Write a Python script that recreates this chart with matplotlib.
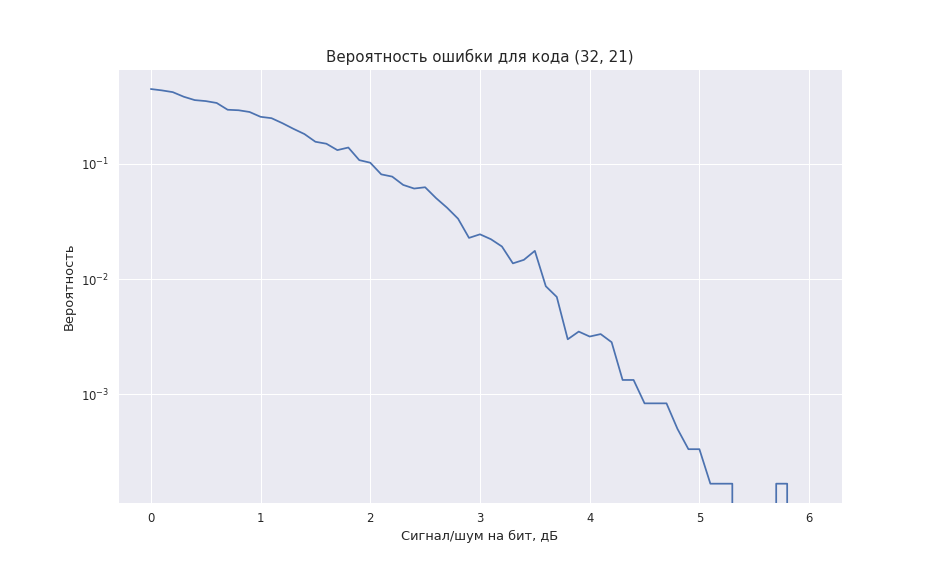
import matplotlib
matplotlib.use('Agg')
import matplotlib.pyplot as plt
import seaborn as sns

# Eb/N0 in dB
snr_db = [0.0, 0.1, 0.2, 0.3, 0.4, 0.5, 0.6, 0.7, 0.8, 0.9,
          1.0, 1.1, 1.2, 1.3, 1.4, 1.5, 1.6, 1.7, 1.8, 1.9,
          2.0, 2.1, 2.2, 2.3, 2.4, 2.5, 2.6, 2.7, 2.8, 2.9,
          3.0, 3.1, 3.2, 3.3, 3.4, 3.5, 3.6, 3.7, 3.8, 3.9,
          4.0, 4.1, 4.2, 4.3, 4.4, 4.5, 4.6, 4.7, 4.8, 4.9,
          5.0, 5.1, 5.2, 5.3, 5.4, 5.5, 5.6, 5.7, 5.8, 5.9, 6.0]

# error probability
p_err = [0.448, 0.436, 0.421, 0.384, 0.359, 0.352, 0.339, 0.296, 0.293, 0.283,
         0.257, 0.250, 0.226, 0.202, 0.182, 0.156, 0.150, 0.132, 0.139, 0.108,
         0.1026, 0.0813, 0.0777, 0.0658, 0.0612, 0.0628, 0.0505, 0.0417, 0.0335, 0.0228,
         0.0245, 0.0222, 0.0192, 0.0137, 0.0147, 0.0176, 0.00867, 0.00700, 0.00300, 0.00350,
         0.00317, 0.00333, 0.00283, 0.00133, 0.00133, 0.000833, 0.000833, 0.000833, 0.000500, 0.000333,
         0.000333, 0.000167, 0.000167, 0.000167, 0.0, 0.0, 0.0, 0.000167, 0.000167, 0.0, 0.0]

sns.set_style('darkgrid')

fig, ax = plt.subplots(figsize=(10.4, 6.4), dpi=90)
fig.subplots_adjust(left=0.126, right=0.8996, top=0.8797, bottom=0.126)

ax.plot(snr_db, p_err, color='#4c72b0', lw=1.4)
ax.set_yscale('log')
ax.set_title('Вероятность ошибки для кода (32, 21)', fontsize=12)
ax.set_xlabel('Сигнал/шум на бит, дБ', fontsize=10.4)
ax.set_ylabel('Вероятность', fontsize=10.4)
ax.tick_params(labelsize=9.3)

fig.savefig('out.png', dpi=90)
